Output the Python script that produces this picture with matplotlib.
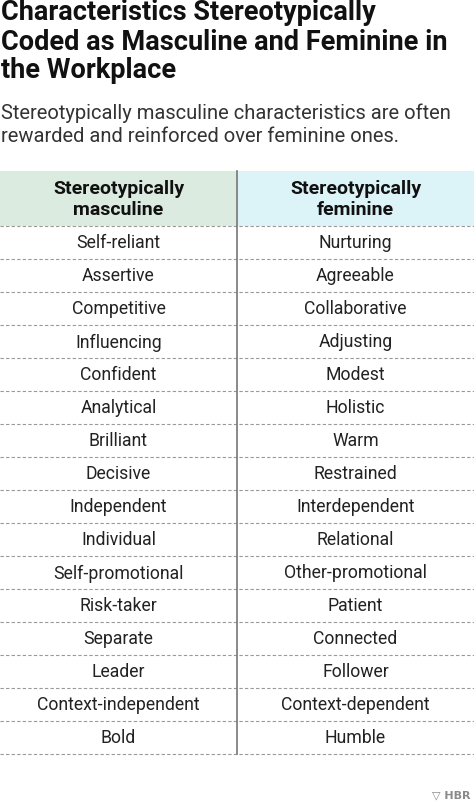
import matplotlib
matplotlib.use("Agg")
import matplotlib.pyplot as plt

title_lines = ["Characteristics Stereotypically",
               "Coded as Masculine and Feminine in",
               "the Workplace"]
subtitle_lines = ["Stereotypically masculine characteristics are often",
                  "rewarded and reinforced over feminine ones."]
headers = ["Stereotypically\nmasculine", "Stereotypically\nfeminine"]
masculine = ["Self-reliant", "Assertive", "Competitive", "Influencing", "Confident",
             "Analytical", "Brilliant", "Decisive", "Independent", "Individual",
             "Self-promotional", "Risk-taker", "Separate", "Leader",
             "Context-independent", "Bold"]
feminine = ["Nurturing", "Agreeable", "Collaborative", "Adjusting", "Modest",
            "Holistic", "Warm", "Restrained", "Interdependent", "Relational",
            "Other-promotional", "Patient", "Connected", "Follower",
            "Context-dependent", "Humble"]

W, H = 474, 804
fig = plt.figure(figsize=(W / 100, H / 100), dpi=100)
ax = fig.add_axes([0, 0, 1, 1])
ax.set_xlim(0, W)
ax.set_ylim(H, 0)
ax.axis("off")

FONT = "Roboto"

# title + subtitle
for i, line in enumerate(title_lines):
    ax.text(1, 13 + i * 29, line, fontsize=19.5, fontweight="bold", family=FONT,
            va="center", ha="left", color="#111111")
for i, line in enumerate(subtitle_lines):
    ax.text(1, 113 + i * 23, line, fontsize=14.5, family=FONT,
            va="center", ha="left", color="#333333")

# header band
top, head_bot, row_h = 172, 227, 33
mid = 237
ax.add_patch(plt.Rectangle((0, top), mid, head_bot - top, color="#dcebe0", lw=0))
ax.add_patch(plt.Rectangle((mid, top), W - mid, head_bot - top, color="#dcf3f7", lw=0))
ax.text(mid / 2, (top + head_bot) / 2, headers[0], fontsize=14, fontweight="bold",
        family=FONT, ha="center", va="center", linespacing=1.2, color="#111111")
ax.text((mid + W) / 2, (top + head_bot) / 2, headers[1], fontsize=14, fontweight="bold",
        family=FONT, ha="center", va="center", linespacing=1.2, color="#111111")

# rows
n = len(masculine)
for i in range(n):
    y0 = head_bot + i * row_h
    ax.plot([0, W], [y0, y0], color="#999999", lw=0.8, ls=(0, (3, 2)))
    yc = y0 + row_h / 2
    ax.text(mid / 2, yc, masculine[i], fontsize=12.7, family=FONT,
            ha="center", va="center", color="#222222")
    ax.text((mid + W) / 2, yc, feminine[i], fontsize=12.7, family=FONT,
            ha="center", va="center", color="#222222")
bottom = head_bot + n * row_h
ax.plot([0, W], [bottom, bottom], color="#999999", lw=0.8, ls=(0, (3, 2)))
ax.plot([mid, mid], [top, bottom], color="#777777", lw=1.2)

ax.text(W - 3, 795, "\u25bd HBR", fontsize=8, fontweight="bold", family=["DejaVu Sans"],
        ha="right", va="center", color="#8a8a8a")

fig.savefig("out.png", dpi=100)
